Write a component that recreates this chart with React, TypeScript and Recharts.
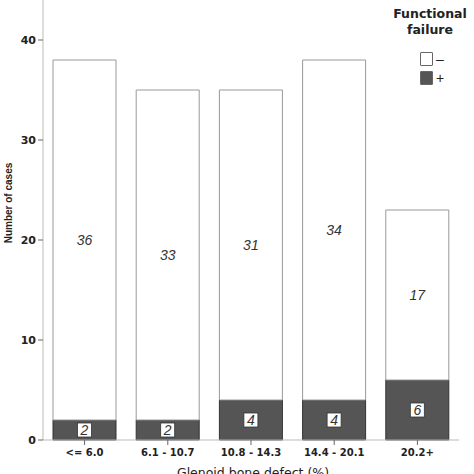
import { BarChart, Bar, XAxis, YAxis, LabelList } from "recharts"

const categories = ["<= 6.0", "6.1 - 10.7", "10.8 - 14.3", "14.4 - 20.1", "20.2+"]
const failureNo = [36, 33, 31, 34, 17]
const failureYes = [2, 2, 4, 4, 6]
const yTicks = [0, 10, 20, 30, 40]

const data = categories.map((group, i) => ({
  group,
  minus: failureNo[i],
  plus: failureYes[i],
}))

const tickFont = "'DejaVu Sans', Verdana, sans-serif"
const arial = "'Liberation Sans', Arial, sans-serif"

function BoxLabel(props: any) {
  const { x, y, width, height, value } = props
  const cx = x + width / 2
  const cy = y + height / 2
  return (
    <g>
      <rect x={cx - 7} y={cy - 7} width={14} height={14} fill="#fff" stroke="#333" strokeWidth={0.8} />
      <text x={cx} y={cy + 5} textAnchor="middle" fontFamily={arial} fontStyle="italic" fontSize={14} fill="#333">
        {value}
      </text>
    </g>
  )
}

function PlainLabel(props: any) {
  const { x, y, width, height, value } = props
  return (
    <text x={x + width / 2} y={y + height / 2 + 5} textAnchor="middle" fontFamily={arial} fontStyle="italic" fontSize={14} fill="#333">
      {value}
    </text>
  )
}

function YTitle(props: any) {
  const { viewBox } = props
  const x = 12
  const y = viewBox.y + viewBox.height / 2 - 17
  return (
    <text x={x} y={y} transform={`rotate(-90, ${x}, ${y})`} textAnchor="middle" fontFamily={arial} fontWeight="bold" fontSize={10} fill="#222">
      Number of cases
    </text>
  )
}

function XTitle(props: any) {
  const { viewBox } = props
  const x = viewBox.x + viewBox.width / 2 + 2
  return (
    <text x={x} y={476.5} textAnchor="middle" fontFamily={tickFont} fontSize={12.5} fill="#222">
      Glenoid bone defect (%)
    </text>
  )
}

export default function App() {
  return (
    <div style={{ position: "absolute", left: 0, top: 0, width: 474, height: 474, background: "#fff", overflow: "hidden" }}>
      <BarChart width={474} height={474} data={data} margin={{ top: 0, right: 15, left: 0, bottom: 0 }}>
        <XAxis
          dataKey="group"
          height={34}
          stroke="#bbb"
          tickLine={{ stroke: "#666" }}
          tickSize={5}
          tick={{ fill: "#222", fontSize: 10, fontWeight: "bold", fontFamily: tickFont, dy: 2 }}
          interval={0}
          label={<XTitle />}
        />
        <YAxis
          width={43}
          domain={[0, 44]}
          ticks={yTicks}
          stroke="#bbb"
          tickLine={{ stroke: "#666" }}
          tickSize={5}
          tick={{ fill: "#222", fontSize: 11, fontWeight: "bold", fontFamily: tickFont }}
          label={<YTitle />}
        />
        <Bar dataKey="plus" stackId="a" fill="#555" stroke="#333" strokeWidth={1} barSize={63} isAnimationActive={false}>
          <LabelList dataKey="plus" content={BoxLabel} />
        </Bar>
        <Bar dataKey="minus" stackId="a" fill="#fff" stroke="#999" strokeWidth={1} barSize={63} isAnimationActive={false}>
          <LabelList dataKey="minus" content={PlainLabel} />
        </Bar>
      </BarChart>
      <div style={{ position: "absolute", left: 384, top: 6, width: 92, textAlign: "center", fontFamily: tickFont, fontWeight: "bold", fontSize: 12.5, lineHeight: "16px", color: "#222" }}>
        Functional
        <br />
        failure
      </div>
      <div style={{ position: "absolute", left: 420, top: 50, fontFamily: arial, fontSize: 14, color: "#222" }}>
        {[
          { name: "–", fill: "#fff" },
          { name: "+", fill: "#555" },
        ].map((item) => (
          <div key={item.name} style={{ display: "flex", alignItems: "center", height: 17, marginBottom: 2 }}>
            <span style={{ display: "inline-block", width: 11, height: 12, background: item.fill, border: "1px solid #666", borderRadius: 1 }} />
            <span style={{ marginLeft: 3 }}>{item.name}</span>
          </div>
        ))}
      </div>
    </div>
  )
}
